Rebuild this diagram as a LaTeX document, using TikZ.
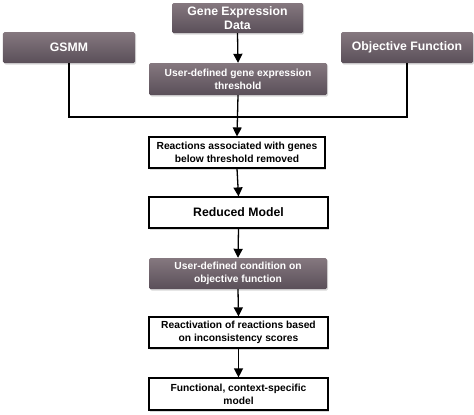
\documentclass[tikz,border=0pt]{standalone}
\usepackage{fontspec}
\setmainfont{Liberation Sans}
\usetikzlibrary{arrows.meta,shadows}
\definecolor{gtop}{HTML}{85787F}
\definecolor{gbot}{HTML}{5A4F59}
\tikzset{
  graybox/.style={rectangle, rounded corners=1.5bp, top color=gtop, bottom color=gbot, draw=none,
    text=white, font=\bfseries\fontsize{10.3}{12.8}\selectfont, align=center,
    inner sep=0pt, drop shadow={shadow xshift=1.2bp, shadow yshift=-1.5bp, opacity=0.3}},
  whitebox/.style={rectangle, fill=white, draw=black, line width=1.2bp,
    text=black, font=\bfseries\fontsize{10.3}{12.8}\selectfont, align=center,
    inner sep=0pt, drop shadow={shadow xshift=1.2bp, shadow yshift=-1.5bp, opacity=0.3}},
  bigtext/.style={font=\bfseries\fontsize{12.3}{14}\selectfont},
  conn/.style={draw=black, line width=1.3bp},
  arr/.style={conn, -{Triangle[length=9bp,width=9bp]}}
}
\begin{document}
\begin{tikzpicture}[x=1bp,y=-1bp]
\useasboundingbox (0,0) rectangle (474,414);
\node[graybox, bigtext, minimum width=131bp, minimum height=30bp] (ged) at (237.5,18) {Gene Expression\\Data};
\node[graybox, bigtext, minimum width=132bp, minimum height=31bp] (gsmm) at (69,47.5) {GSMM};
\node[graybox, bigtext, minimum width=132bp, minimum height=31bp] (obj) at (407,47.5) {Objective Function};
\node[graybox, minimum width=178bp, minimum height=32bp] (thr) at (238,79) {User-defined gene expression\\threshold};
\node[whitebox, minimum width=176bp, minimum height=31bp] (rea) at (237,152.5) {Reactions associated with genes\\below threshold removed};
\node[whitebox, bigtext, minimum width=179bp, minimum height=31bp] (red) at (238.5,212.5) {Reduced Model};
\node[graybox, minimum width=178bp, minimum height=31bp] (cond) at (238,273.5) {User-defined condition on\\objective function};
\node[whitebox, minimum width=179bp, minimum height=31bp] (react) at (238.5,332.5) {Reactivation of reactions based\\on inconsistency scores};
\node[whitebox, minimum width=179bp, minimum height=32bp] (func) at (238.5,394) {Functional, context-specific\\model};
\coordinate (join) at (237,117);
\draw[arr] (ged.south) -- (thr.north);
\draw[arr] (thr.south) -- (rea.north);
\draw[conn] (gsmm.south) |- (join) -| (obj.south);
\draw[arr] (rea.south) -- (red.north);
\draw[arr] (red.south) -- (cond.north);
\draw[arr] (cond.south) -- (react.north);
\draw[arr] (react.south) -- (func.north);
\end{tikzpicture}
\end{document}
